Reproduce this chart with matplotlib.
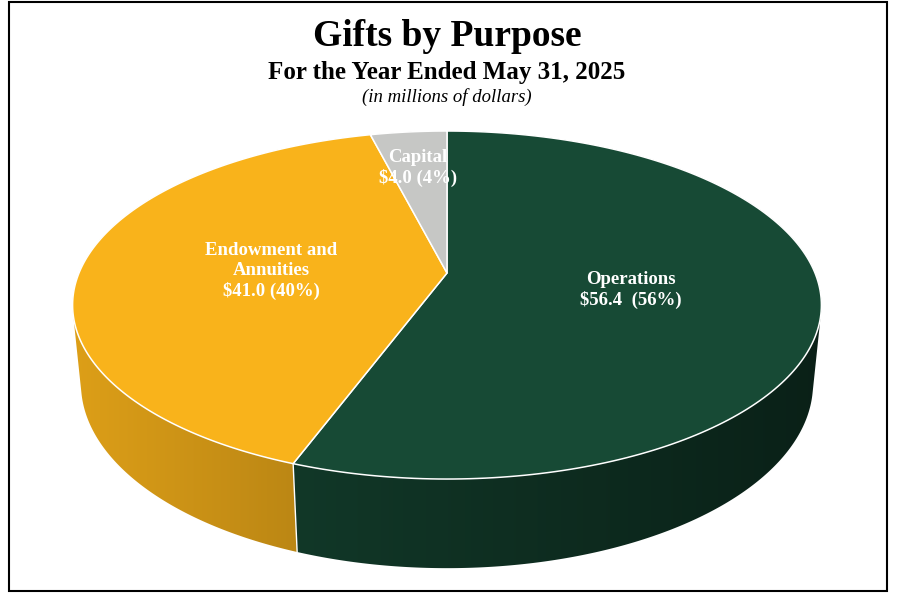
import numpy as np
import matplotlib
matplotlib.use("Agg")
import matplotlib.pyplot as plt
from matplotlib.patches import Polygon, Rectangle

# ---- data ----
categories = ["Operations", "Endowment and\nAnnuities", "Capital"]
values = [56.4, 41.0, 4.0]
percents = [56, 40, 4]
value_labels = ["$56.4  (56%)", "$41.0 (40%)", "$4.0 (4%)"]
colors = ["#174a35", "#f9b31b", "#c6c7c5"]

title = "Gifts by Purpose"
subtitle = "For the Year Ended May 31, 2025"
units = "(in millions of dollars)"

# ---- geometry / style ----
CX, CY, SX, SY = 447.0, 273.0, 368.0, 373.0
SIN_A = 0.4507
COS_A = np.sqrt(1 - SIN_A ** 2)
DIST = 4.85
DEPTH = 0.238
label_r = [0.5, 0.48, 0.72]
label_dy = [2, 2, 1]
SERIF = ["Liberation Serif", "DejaVu Serif"]


def proj(theta, Y, r=1.0):
    X = r * np.sin(theta)
    Z = -r * np.cos(theta)
    depth = 1 - (Y * SIN_A + Z * COS_A) / DIST
    u = SX * X / depth
    v = SY * (Y * COS_A - Z * SIN_A) / depth
    return CX + u, CY - v


def hull(points):
    pts = sorted(set(points))
    if len(pts) < 3:
        return pts

    def cross(o, a, b):
        return (a[0] - o[0]) * (b[1] - o[1]) - (a[1] - o[1]) * (b[0] - o[0])
    lower, upper = [], []
    for p in pts:
        while len(lower) >= 2 and cross(lower[-2], lower[-1], p) <= 0:
            lower.pop()
        lower.append(p)
    for p in reversed(pts):
        while len(upper) >= 2 and cross(upper[-2], upper[-1], p) <= 0:
            upper.pop()
        upper.append(p)
    return lower[:-1] + upper[:-1]


def shade_row(hexcol, xs):
    rgb = np.array(matplotlib.colors.to_rgb(hexcol))
    X = np.clip((xs - CX) / SX, -1, 1)
    f = (0.663 - 0.221 * X)[:, None]
    return np.clip(rgb[None, :] * f, 0, 1)


fig = plt.figure(figsize=(9, 5.94), dpi=100)
ax = fig.add_axes([0, 0, 1, 1])
ax.set_xlim(0, 900)
ax.set_ylim(594, 0)
ax.axis("off")

total = sum(values)
bounds = np.concatenate([[0], np.cumsum(values)]) / total * 2 * np.pi

# side walls: convex hull of top & bottom rim arcs, gradient filled
xgrid = np.arange(0, 901, 1.0)
order = sorted(range(len(values)),
               key=lambda i: np.max(-np.cos(np.linspace(bounds[i], bounds[i + 1], 200))))
for k, i in enumerate(order):
    ts = np.linspace(bounds[i], bounds[i + 1], 400)
    xt, yt = proj(ts, 0)
    xb, yb = proj(ts, -DEPTH)
    pts = [(float(a), float(b)) for a, b in zip(np.r_[xt, xb], np.r_[yt, yb])]
    poly = Polygon(hull(pts), closed=True, facecolor="none", edgecolor="none")
    ax.add_patch(poly)
    row = shade_row(colors[i], xgrid)
    img = np.repeat(row[None, :, :], 2, axis=0)
    im = ax.imshow(img, extent=(0, 900, 594, 0), aspect="auto",
                   interpolation="bilinear", zorder=1 + 0.01 * k)
    im.set_clip_path(poly)

# vertical boundaries on side
for t in bounds[:-1]:
    if -np.cos(t) > 0.2:
        x0, y0 = proj(t, 0)
        x1, y1 = proj(t, -DEPTH)
        ax.plot([x0, x1], [y0, y1], color="white", lw=1.0, zorder=2)

# top faces
for i in range(len(values)):
    ts = np.linspace(bounds[i], bounds[i + 1], 200)
    xs, ys = proj(ts, 0)
    pts = [(CX, CY)] + list(zip(xs, ys))
    ax.add_patch(Polygon(pts, closed=True, facecolor=colors[i],
                         edgecolor="white", lw=1.1, zorder=3))

# labels
for i in range(len(values)):
    mid = 0.5 * (bounds[i] + bounds[i + 1])
    lx, ly = proj(mid, 0, label_r[i])
    ax.text(lx, ly + label_dy[i], categories[i] + "\n" + value_labels[i],
            ha="center", va="center", color="white", fontsize=13.5,
            fontweight="bold", family=SERIF, linespacing=1.22, zorder=5)

# titles
ax.text(447, 37, title, ha="center", va="center", fontsize=27, fontweight="bold", family=SERIF)
ax.text(447, 72, subtitle, ha="center", va="center", fontsize=18, fontweight="bold", family=SERIF)
ax.text(447, 97, units, ha="center", va="center", fontsize=13.5, style="italic", family=SERIF)

# frame
ax.add_patch(Rectangle((9, 2), 878, 589, fill=False, edgecolor="black", lw=1.5, zorder=6))

fig.savefig("out.png", dpi=100)
